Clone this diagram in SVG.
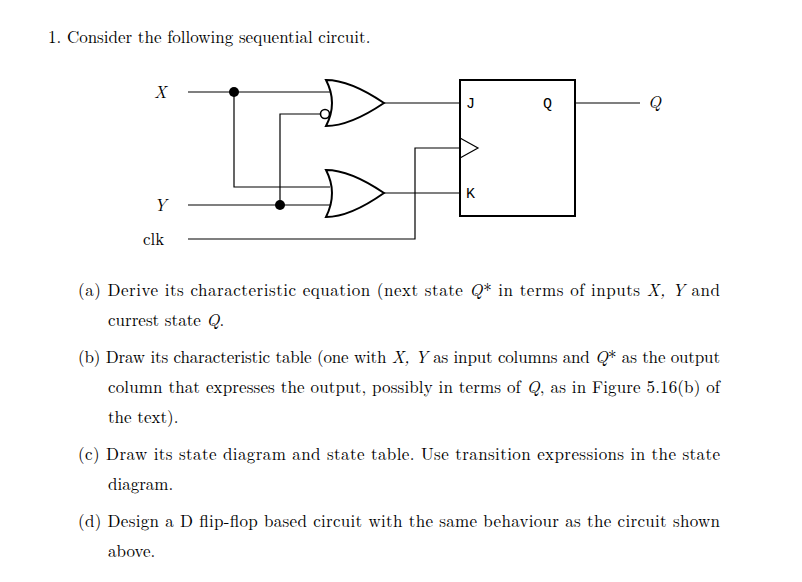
<svg xmlns="http://www.w3.org/2000/svg" width="802" height="582" viewBox="0 0 802 582">
<style>
.t{font-family:"Latin Modern Roman","Liberation Serif",serif;font-size:17px;fill:#000}
.i{font-style:italic}
.m{font-family:"Liberation Mono","DejaVu Sans Mono",monospace;font-size:15px}
.w{fill:none;stroke:#000;stroke-width:1.2}
.g{fill:#fff;stroke:#000;stroke-width:2}
</style>
<rect width="802" height="582" fill="#fff"/>
<text class="t" x="48" y="43">1. Consider the following sequential circuit.</text>
<g id="connectors">
<path class="w" d="M188 92H330M234 92V187H330M188 205H330M280 205V114H322M188 239H415V148H460M384 103H460M384 193H460M575 103H640"/>
</g>
<g id="dots"><circle cx="234" cy="92" r="5"/><circle cx="280" cy="205" r="5"/></g>
<g id="gate1"><path class="g" d="M326 80Q350 80 384 103Q350 126 326 126Q338 103 326 80Z"/><circle cx="325" cy="114" r="4.5" fill="#fff" stroke="#000" stroke-width="1.6"/></g>
<g id="gate2"><path class="g" d="M326 170Q350 170 384 193Q350 217 326 217Q338 193 326 170Z"/></g>
<g id="ff"><rect x="460" y="80" width="115" height="136" fill="#fff" stroke="#000" stroke-width="2"/>
<path class="w" d="M460 138L478 148L460 158" stroke-width="1.6"/>
<text class="m" x="466" y="108">J</text><text class="m" x="543" y="108">Q</text><text class="m" x="466" y="198">K</text></g>
<g id="labels">
<text class="t i" x="154" y="98">X</text><text class="t i" x="154" y="211">Y</text><text class="t" x="143" y="245">clk</text><text class="t i" x="648" y="108">Q</text>
</g>
<g id="questions" class="t">
<text x="78" y="296" textLength="642" lengthAdjust="spacing">(a)  Derive its characteristic equation (next state <tspan class="i">Q</tspan>* in terms of inputs <tspan class="i">X, Y</tspan> and</text>
<text x="108" y="326">currest state <tspan class="i">Q</tspan>.</text>
<text x="78" y="363" textLength="642" lengthAdjust="spacing">(b)  Draw its characteristic table (one with <tspan class="i">X, Y</tspan> as input columns and <tspan class="i">Q</tspan>* as the output</text>
<text x="108" y="393" textLength="612" lengthAdjust="spacing">column that expresses the output, possibly in terms of <tspan class="i">Q</tspan>, as in Figure 5.16(b) of</text>
<text x="108" y="423">the text).</text>
<text x="78" y="460" textLength="642" lengthAdjust="spacing">(c)  Draw its state diagram and state table. Use transition expressions in the state</text>
<text x="108" y="490">diagram.</text>
<text x="78" y="527" textLength="642" lengthAdjust="spacing">(d)  Design a D flip-flop based circuit with the same behaviour as the circuit shown</text>
<text x="108" y="557">above.</text>
</g>
</svg>
